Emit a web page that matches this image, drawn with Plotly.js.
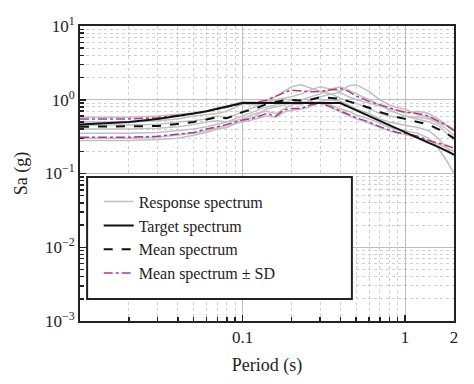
<!DOCTYPE html>
<html>
<head>
<meta charset="utf-8">
<script src="https://cdn.plot.ly/plotly-3.0.1.min.js"></script>
<style>html,body{margin:0;padding:0;background:#fff;}#chart{width:474px;height:384px;}</style>
</head>
<body>
<div id="chart"></div>
<script>
// Periods (s)
const periods = [0.01,0.02,0.03,0.04,0.05,0.06,0.07,0.08,0.09,0.1,0.12,0.14,0.16,0.18,0.2,0.23,0.26,0.3,0.35,0.4,0.45,0.5,0.6,0.7,0.8,0.9,1.0,1.2,1.4,1.6,1.8,2.0];

// Response spectra of individual records (g)
const resp1 = [0.58,0.58,0.60,0.63,0.66,0.70,0.78,0.82,0.88,0.95,0.92,0.98,1.10,1.30,1.50,1.60,1.45,1.30,1.20,1.25,1.10,1.00,0.90,0.82,0.75,0.70,0.66,0.70,0.65,0.55,0.45,0.38];
const resp2 = [0.50,0.50,0.52,0.55,0.60,0.63,0.65,0.70,0.80,0.88,0.85,0.90,1.00,1.05,1.10,1.20,1.35,1.50,1.40,1.30,1.55,1.60,1.30,1.00,0.85,0.78,0.75,0.62,0.58,0.50,0.45,0.40];
const resp3 = [0.45,0.45,0.46,0.50,0.52,0.55,0.60,0.58,0.62,0.70,0.80,0.95,1.00,0.95,0.90,0.85,1.00,1.10,1.20,1.05,0.95,0.90,0.75,0.65,0.60,0.58,0.60,0.55,0.50,0.45,0.35,0.28];
const resp4 = [0.40,0.40,0.41,0.43,0.46,0.50,0.52,0.50,0.55,0.60,0.70,0.80,0.85,0.90,1.00,0.95,0.88,0.95,1.00,0.95,0.85,0.75,0.65,0.55,0.50,0.47,0.45,0.42,0.38,0.30,0.22,0.17];
const resp5 = [0.35,0.35,0.36,0.38,0.40,0.43,0.47,0.50,0.52,0.55,0.65,0.70,0.65,0.75,0.85,0.90,0.95,0.90,0.85,0.75,0.70,0.62,0.55,0.48,0.42,0.40,0.38,0.35,0.30,0.22,0.15,0.10];
const resp6 = [0.30,0.30,0.31,0.33,0.35,0.38,0.42,0.45,0.48,0.50,0.55,0.60,0.58,0.68,0.72,0.75,0.80,0.92,0.78,0.68,0.60,0.55,0.48,0.42,0.38,0.35,0.34,0.30,0.28,0.25,0.22,0.20];
const resp7 = [0.28,0.28,0.29,0.30,0.33,0.36,0.40,0.42,0.47,0.52,0.60,0.75,0.80,0.85,0.90,1.00,1.10,1.20,1.40,1.50,1.35,1.20,1.00,0.85,0.72,0.65,0.60,0.58,0.55,0.48,0.40,0.33];

// Target spectrum (g)
const target = [0.46,0.50,0.55,0.60,0.65,0.70,0.75,0.80,0.85,0.90,0.90,0.90,0.90,0.90,0.90,0.90,0.90,0.90,0.90,0.90,0.80,0.72,0.60,0.51,0.45,0.40,0.36,0.30,0.26,0.23,0.20,0.18];
// Mean spectrum (g)
const meanSp = [0.43,0.43,0.44,0.47,0.50,0.54,0.58,0.56,0.62,0.68,0.76,0.87,0.93,0.98,0.99,0.98,1.00,1.08,1.06,1.03,0.95,0.88,0.78,0.68,0.62,0.58,0.55,0.50,0.46,0.40,0.35,0.30];
// Mean + SD, Mean - SD (g)
const meanPlusSD = [0.55,0.55,0.57,0.61,0.65,0.69,0.74,0.78,0.84,0.90,0.92,0.98,1.12,1.25,1.35,1.32,1.28,1.30,1.35,1.42,1.30,1.12,0.95,0.85,0.78,0.72,0.68,0.65,0.60,0.52,0.45,0.38];
const meanMinusSD = [0.31,0.31,0.32,0.34,0.36,0.40,0.43,0.46,0.50,0.53,0.57,0.65,0.60,0.73,0.76,0.76,0.85,0.90,0.80,0.70,0.63,0.57,0.50,0.43,0.39,0.36,0.35,0.32,0.28,0.26,0.24,0.22];

const legendNames = ["Response spectrum","Target spectrum","Mean spectrum","Mean spectrum \u00b1 SD"];
const xTickVals = [0.1,1,2];
const xTickText = ["0.1","1","2"];
const yTickVals = [0.001,0.01,0.1,1,10];
const yTickText = ["10<sup>\u22123</sup>","10<sup>\u22122</sup>","10<sup>\u22121</sup>","10<sup>0</sup>","10<sup>1</sup>"];

const GRAY = "#c0c0c0", MAG = "#b03a88";
const responses = [resp1,resp2,resp3,resp4,resp5,resp6,resp7];
const traces = [];
responses.forEach((r,i)=>traces.push({
  x: periods, y: r, type:"scatter", mode:"lines",
  line:{color:GRAY,width:1.5}, name:legendNames[0],
  showlegend: i===0, legendrank:1, legendgroup:"resp"
}));
traces.push({x:periods,y:meanPlusSD,type:"scatter",mode:"lines",line:{color:MAG,width:1.5,dash:"dashdot"},name:legendNames[3],legendrank:4,legendgroup:"sd"});
traces.push({x:periods,y:meanMinusSD,type:"scatter",mode:"lines",line:{color:MAG,width:1.5,dash:"dashdot"},name:legendNames[3],showlegend:false,legendgroup:"sd"});
traces.push({x:periods,y:target,type:"scatter",mode:"lines",line:{color:"#111",width:2},name:legendNames[1],legendrank:2});
traces.push({x:periods,y:meanSp,type:"scatter",mode:"lines",line:{color:"#111",width:2,dash:"dash"},name:legendNames[2],legendrank:3});

const minorX = [0.02,0.03,0.04,0.05,0.06,0.07,0.08,0.09,0.2,0.3,0.4,0.5,0.6,0.7,0.8,0.9];
const minorY = [];
[-3,-2,-1,0].forEach(e=>{for(let k=2;k<=9;k++) minorY.push(k*Math.pow(10,e));});

const FONT = "Liberation Serif";
const layout = {
  width:474, height:384,
  margin:{l:80,r:20,t:26,b:63},
  paper_bgcolor:"#fff", plot_bgcolor:"#fff",
  font:{family:FONT,size:16,color:"#222"},
  showlegend:true,
  legend:{x:0.05,y:0.462,xanchor:"left",yanchor:"top",bgcolor:"rgba(0,0,0,0)",borderwidth:0,
    font:{family:FONT,size:16,color:"#222"},itemwidth:30,traceorder:"normal",tracegroupgap:0},
  xaxis:{type:"log",range:[Math.log10(0.01),Math.log10(2)],
    tickmode:"array",tickvals:xTickVals,ticktext:xTickText,ticks:"inside",ticklen:6,tickcolor:"#222",tickwidth:1.5,
    showgrid:true,gridcolor:"#bdbdbd",gridwidth:1,
    minor:{tickmode:"array",tickvals:minorX,ticks:"inside",ticklen:4,tickcolor:"#222",showgrid:true,gridcolor:"#d0d0d0",griddash:"dot",gridwidth:1},
    showline:true,linecolor:"#222",linewidth:2,mirror:true,zeroline:false,
    tickfont:{family:FONT,size:17,color:"#222"},
    title:{text:"Period (s)",font:{family:FONT,size:18,color:"#222"},standoff:12}},
  yaxis:{type:"log",range:[-3,1],tickmode:"array",tickvals:yTickVals,ticktext:yTickText,
    ticks:"inside",ticklen:6,tickcolor:"#222",tickwidth:1.5,
    showgrid:true,gridcolor:"#bdbdbd",gridwidth:1,
    minor:{tickmode:"array",tickvals:minorY,ticks:"inside",ticklen:4,tickcolor:"#222",showgrid:true,gridcolor:"#d0d0d0",griddash:"dot",gridwidth:1},
    showline:true,linecolor:"#222",linewidth:2,mirror:true,zeroline:false,
    tickfont:{family:FONT,size:17,color:"#222"},
    title:{text:"Sa (g)",font:{family:FONT,size:18,color:"#222"},standoff:13}},
  shapes:[{type:"rect",xref:"paper",yref:"paper",x0:0.019,x1:0.727,y0:0.075,y1:0.488,
    line:{color:"#222",width:2},fillcolor:"#fff",layer:"above"}]
};
Plotly.newPlot("chart",traces,layout,{staticPlot:true,displayModeBar:false});
</script>
</body>
</html>
